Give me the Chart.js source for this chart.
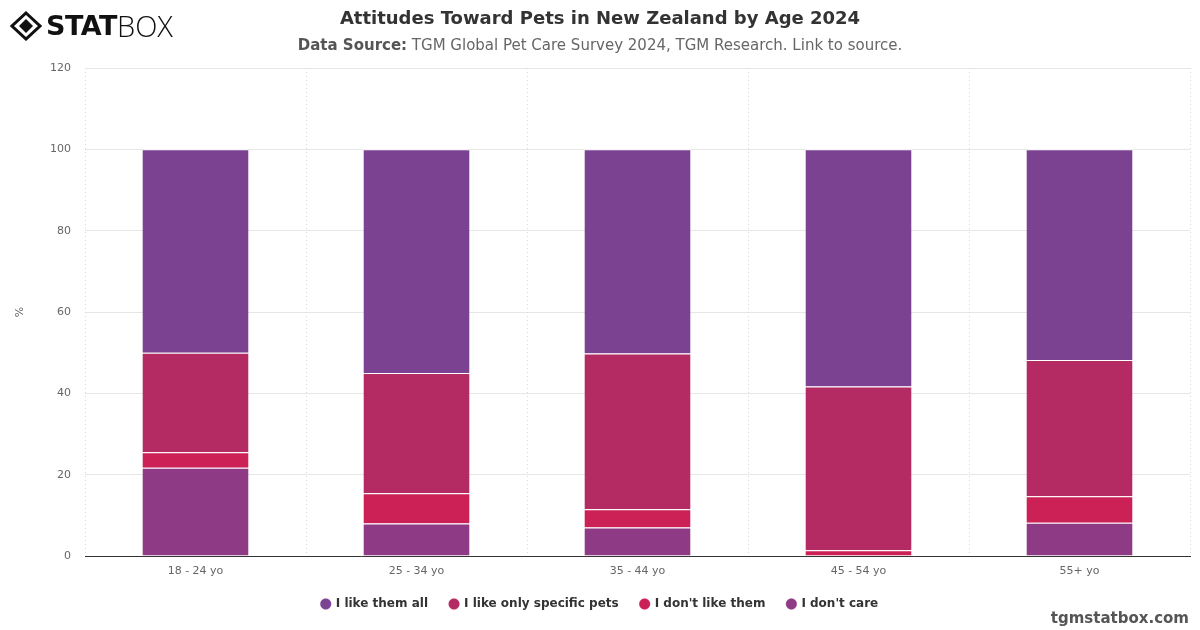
<!DOCTYPE html>
<html>
<head>
<meta charset="utf-8">
<script src="https://cdn.jsdelivr.net/npm/chart.js@4"></script>
<style>
  html, body { margin: 0; padding: 0; background: #fff; }
  #wrap { position: relative; width: 1200px; height: 630px; font-family: "DejaVu Sans", sans-serif; }
  #chart { position: absolute; left: 0; top: 0; }
  .logo { position: absolute; left: 10px; top: 6px; display: flex; align-items: center; }
  .logo .stat { font-family: "DejaVu Sans", sans-serif; font-weight: 900; font-size: 27px; color: #111; letter-spacing: -0.5px; margin-left: 4px; }
  .logo .box { font-family: "Open Sans", sans-serif; font-weight: 300; font-size: 29px; color: #111; }
  .title { position: absolute; left: 0; width: 1200px; top: 7px; text-align: center; font-size: 18px; font-weight: bold; color: #333; }
  .subtitle { position: absolute; left: 0; width: 1200px; top: 36px; text-align: center; font-size: 15px; color: #666; }
  .subtitle b { color: #555; }
  .footer { position: absolute; right: 11px; top: 609px; font-size: 15px; font-weight: bold; color: #555; }
</style>
</head>
<body>
<div id="wrap">
  <canvas id="chart" width="1200" height="630"></canvas>
  <div class="logo">
    <svg width="32" height="30" viewBox="0 0 32 30">
      <polygon points="16,2 30,15 16,28 2,15" fill="none" stroke="#111" stroke-width="3"/>
      <polygon points="16,8 23,15 16,22 9,15" fill="#111"/>
    </svg>
    <span class="stat">STAT</span><span class="box">BOX</span>
  </div>
  <div class="title">Attitudes Toward Pets in New Zealand by Age 2024</div>
  <div class="subtitle"><b>Data Source:</b> TGM Global Pet Care Survey 2024, TGM Research. Link to source.</div>
  <div class="footer">tgmstatbox.com</div>
</div>
<script>
// categories and values (percent)
const categories = ['18 - 24 yo', '25 - 34 yo', '35 - 44 yo', '45 - 54 yo', '55+ yo'];
const likeThemAll = [50.0, 55.0, 50.2, 58.3, 51.8];
const likeSpecific = [24.5, 29.6, 38.3, 40.3, 33.5];
const dontLikeThem = [3.8, 7.4, 4.5, 1.4, 6.5];
const dontCare = [21.7, 8.0, 7.0, 0, 8.2];
const yTicks = [0, 20, 40, 60, 80, 100, 120];

// bottom of the stack first, legend shown reversed
const series = [
    { label: "I don't care", data: dontCare, color: '#8e3a84' },
    { label: "I don't like them", data: dontLikeThem, color: '#cc2157' },
    { label: 'I like only specific pets', data: likeSpecific, color: '#b42a63' },
    { label: 'I like them all', data: likeThemAll, color: '#7b4292' }
];

const ctx = document.getElementById('chart').getContext('2d');
new Chart(ctx, {
    type: 'bar',
    data: {
        labels: categories,
        datasets: series.map(s => ({
            label: s.label,
            data: s.data,
            backgroundColor: s.color,
            borderColor: '#fff',
            // no white edge on empty segments
            borderWidth: c => (c.raw ? { top: 1, left: 0, right: 0, bottom: 0 } : 0),
            borderSkipped: false,
            categoryPercentage: 0.96,
            barPercentage: 0.5
        }))
    },
    options: {
        responsive: false,
        animation: false,
        layout: { padding: { left: 10, right: 10, top: 68, bottom: 10 } },
        plugins: {
            tooltip: { enabled: false },
            legend: {
                position: 'bottom',
                reverse: true,
                labels: {
                    usePointStyle: true,
                    pointStyle: 'circle',
                    boxWidth: 8,
                    boxHeight: 8,
                    padding: 22,
                    color: '#333',
                    font: { family: 'DejaVu Sans', size: 12, weight: 'bold' }
                }
            }
        },
        scales: {
            x: {
                stacked: true,
                grid: { color: 'rgba(0,0,0,0)', drawTicks: false },
                border: { display: true, color: '#333', width: 1 },
                ticks: { color: '#666', padding: 9, font: { family: 'DejaVu Sans', size: 11 } },
                afterFit: scale => { scale.height = 20; }
            },
            y: {
                stacked: true,
                min: 0,
                max: 120,
                afterBuildTicks: scale => { scale.ticks = yTicks.map(v => ({ value: v })); },
                grid: { color: '#e6e6e6', drawTicks: false },
                border: { display: false },
                ticks: { color: '#666', padding: 14, font: { family: 'DejaVu Sans', size: 11 } },
                title: { display: true, text: '%', color: '#666', font: { family: 'DejaVu Sans', size: 11 }, padding: { bottom: 26 } },
                afterFit: scale => { scale.width = 75; }
            }
        }
    },
    plugins: [{
        // dotted vertical lines at category boundaries
        id: 'dottedCats',
        beforeDatasetsDraw(chart) {
            const { ctx, chartArea, scales } = chart;
            const xs = scales.x;
            const n = categories.length;
            const step = (chartArea.right - chartArea.left) / n;
            ctx.save();
            ctx.strokeStyle = '#d8d8d8';
            ctx.lineWidth = 1;
            ctx.setLineDash([1, 3]);
            for (let i = 0; i <= n; i++) {
                const x = Math.round(xs.getPixelForValue(0) - step / 2 + i * step) + 0.5;
                ctx.beginPath();
                ctx.moveTo(x, chartArea.top);
                ctx.lineTo(x, chartArea.bottom);
                ctx.stroke();
            }
            ctx.restore();
        }
    }]
});
</script>
</body>
</html>
